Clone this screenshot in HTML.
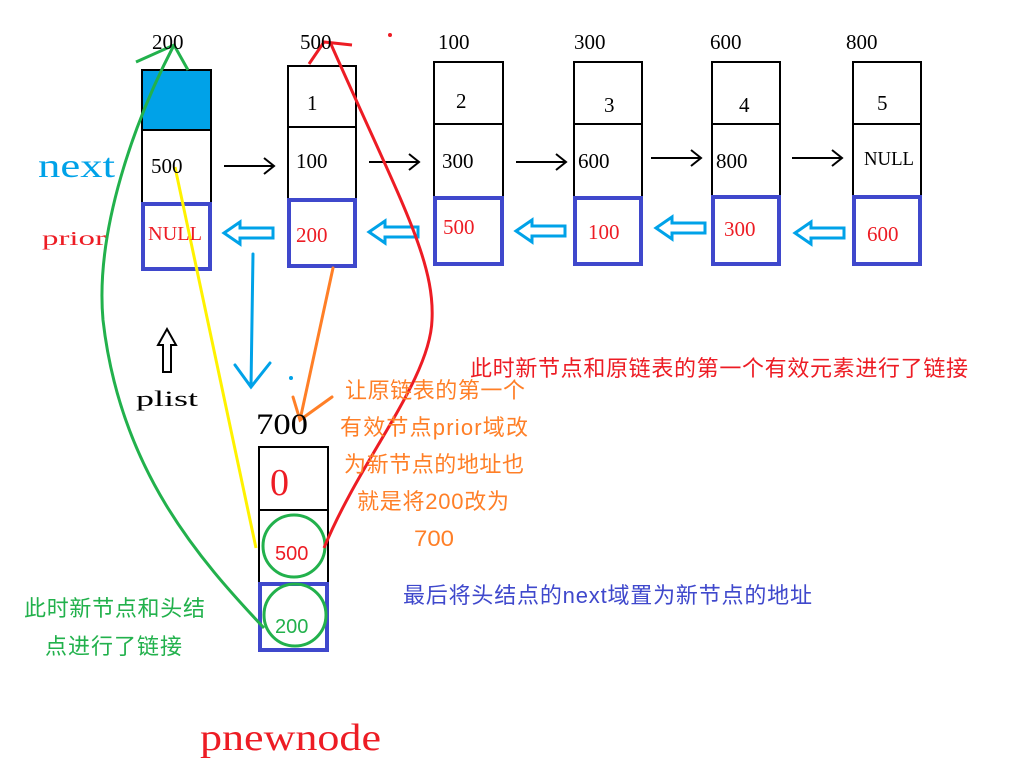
<!DOCTYPE html>
<html><head><meta charset="utf-8"><style>
body{margin:0;background:#fff}
svg{display:block}
.s{font-family:"Liberation Serif","Noto Serif CJK SC",serif}
.c{font-family:"Liberation Sans","Noto Sans CJK SC",sans-serif}
</style></head><body>
<svg width="1010" height="767" viewBox="0 0 1010 767" xmlns="http://www.w3.org/2000/svg">
<g fill="none" stroke-width="2">
<rect x="142" y="70" width="69" height="60" fill="#00a2e8" stroke="#000"/>
<rect x="142" y="130" width="69" height="73" stroke="#000"/>
<rect x="143" y="204" width="67" height="65" stroke="#3f48cc" stroke-width="4"/>
<rect x="288" y="66" width="68" height="61" stroke="#000"/>
<rect x="288" y="127" width="68" height="72" stroke="#000"/>
<rect x="289" y="200" width="66" height="66" stroke="#3f48cc" stroke-width="4"/>
<rect x="434" y="62" width="69" height="62" stroke="#000"/>
<rect x="434" y="124" width="69" height="73" stroke="#000"/>
<rect x="435" y="198" width="67" height="66" stroke="#3f48cc" stroke-width="4"/>
<rect x="574" y="62" width="68" height="62" stroke="#000"/>
<rect x="574" y="124" width="68" height="73" stroke="#000"/>
<rect x="575" y="198" width="66" height="66" stroke="#3f48cc" stroke-width="4"/>
<rect x="712" y="62" width="68" height="62" stroke="#000"/>
<rect x="712" y="124" width="68" height="72" stroke="#000"/>
<rect x="713" y="197" width="66" height="67" stroke="#3f48cc" stroke-width="4"/>
<rect x="853" y="62" width="68" height="62" stroke="#000"/>
<rect x="853" y="124" width="68" height="72" stroke="#000"/>
<rect x="854" y="197" width="66" height="67" stroke="#3f48cc" stroke-width="4"/>
<rect x="259" y="447" width="69" height="63" stroke="#000"/>
<rect x="259" y="510" width="69" height="73" stroke="#000"/>
<rect x="260" y="584" width="67" height="66" stroke="#3f48cc" stroke-width="4"/>
</g>
<g stroke="#000" stroke-width="2" fill="none">
<path d="M224 166H274M264 158L274 166L264 174"/>
<path d="M369 162H419M409 154L419 162L409 170"/>
<path d="M516 162H566M556 154L566 162L556 170"/>
<path d="M651 158H701M691 150L701 158L691 166"/>
<path d="M792 158H842M832 150L842 158L832 166"/>
<path d="M163 372V345H158L167 329L176 345H171V372Z" stroke-width="2"/>
</g>
<g stroke="#00a2e8" stroke-width="3" fill="#fff">
<polygon points="224,233 240,222 240,228 273,228 273,238 240,238 240,244"/>
<polygon points="369,232 385,221 385,227 418,227 418,237 385,237 385,243"/>
<polygon points="516,231 532,220 532,226 565,226 565,236 532,236 532,242"/>
<polygon points="656,228 672,217 672,223 705,223 705,233 672,233 672,239"/>
<polygon points="795,233 811,222 811,228 844,228 844,238 811,238 811,244"/>
</g>
<g stroke="#00a2e8" stroke-width="3" fill="none" stroke-linecap="round">
<path d="M253 254L251 387M235 365L251 387L270 363"/>
</g>
<circle cx="291" cy="378" r="2" fill="#00a2e8"/>
<circle cx="390" cy="35" r="2" fill="#ed1c24"/>
<g stroke="#ff7f27" stroke-width="3" fill="none" stroke-linecap="round">
<path d="M333 268L300 420M293 397L300 420L332 397"/>
</g>
<path d="M175 167L256 548" stroke="#fff200" stroke-width="3" fill="none"/>
<g stroke="#22b14c" stroke-width="3" fill="none">
<path d="M264 628C200 560 120 470 103 320C95 230 135 120 174 45"/>
<path d="M136 62L174 45L188 70"/>
<circle cx="294" cy="546" r="31"/>
<circle cx="295" cy="615" r="31"/>
</g>
<g stroke="#ed1c24" stroke-width="3" fill="none">
<path d="M324 548C360 460 430 380 432 320C435 260 400 200 330 42"/>
<path d="M309 64L324 42L352 45"/>
</g>
<g class="s" font-size="21" fill="#000">
<text x="152" y="49">200</text><text x="300" y="49">500</text><text x="438" y="49">100</text>
<text x="574" y="49">300</text><text x="710" y="49">600</text><text x="846" y="49">800</text>
<text x="307" y="110">1</text><text x="456" y="108">2</text><text x="604" y="112">3</text>
<text x="739" y="112">4</text><text x="877" y="110">5</text>
<text x="151" y="173">500</text><text x="296" y="168">100</text><text x="442" y="168">300</text>
<text x="578" y="168">600</text><text x="716" y="168">800</text>
<text x="864" y="165" font-size="20" textLength="50" lengthAdjust="spacingAndGlyphs">NULL</text>
<text x="136" y="406" font-size="22" textLength="62" lengthAdjust="spacingAndGlyphs">plist</text>
<text x="256" y="434" font-size="30" textLength="52" lengthAdjust="spacingAndGlyphs">700</text>
</g>
<g class="s" font-size="21" fill="#ed1c24">
<text x="148" y="240" font-size="20" textLength="54" lengthAdjust="spacingAndGlyphs">NULL</text><text x="296" y="242">200</text><text x="443" y="234">500</text>
<text x="588" y="239">100</text><text x="724" y="236">300</text><text x="867" y="241">600</text>
<text x="270" y="495" font-size="38">0</text>
<text x="42" y="245" font-size="20" textLength="64" lengthAdjust="spacingAndGlyphs">prior</text>
<text x="200" y="750" font-size="38" textLength="181" lengthAdjust="spacingAndGlyphs">pnewnode</text>
</g>
<text class="s" x="38" y="177" font-size="34" fill="#00a2e8" textLength="77" lengthAdjust="spacingAndGlyphs">next</text>
<g class="c" font-size="22">
<text x="275" y="560" fill="#ed1c24" font-size="20">500</text>
<text x="275" y="633" fill="#22b14c" font-size="20">200</text>
<text x="470" y="376" fill="#ed1c24" textLength="498">此时新节点和原链表的第一个有效元素进行了链接</text>
<g fill="#ff7f27">
<text x="345" y="398" textLength="180">让原链表的第一个</text>
<text x="340" y="435" textLength="188">有效节点prior域改</text>
<text x="344" y="472" textLength="180">为新节点的地址也</text>
<text x="357" y="509" textLength="152">就是将200改为</text>
<text x="414" y="546" textLength="40" lengthAdjust="spacingAndGlyphs">700</text>
</g>
<text x="403" y="603" fill="#3f48cc" textLength="409">最后将头结点的next域置为新节点的地址</text>
<text x="24" y="616" fill="#22b14c" textLength="181">此时新节点和头结</text>
<text x="45" y="654" fill="#22b14c" textLength="137">点进行了链接</text>
</g>
</svg>
</body></html>
